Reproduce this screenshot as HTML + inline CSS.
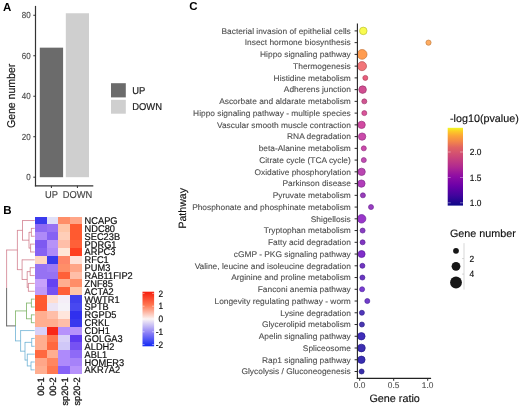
<!DOCTYPE html>
<html><head><meta charset="utf-8"><title>Figure</title>
<style>html,body{margin:0;padding:0;background:#fff;}svg{display:block}text{font-family:"Liberation Sans",Arial,sans-serif;text-rendering:geometricPrecision}</style>
</head><body>
<svg width="520" height="407" viewBox="0 0 520 407">
<rect width="520" height="407" fill="#ffffff"/>
<text transform="translate(2.90 10.50)" font-size="11.5" fill="#000" text-anchor="start" font-weight="bold">A</text>
<text transform="translate(3.20 214.20)" font-size="11.5" fill="#000" text-anchor="start" font-weight="bold">B</text>
<text transform="translate(189.30 10.40)" font-size="11.5" fill="#000" text-anchor="start" font-weight="bold">C</text>
<rect x="39.80" y="47.66" width="23.30" height="129.54" fill="#6b6b6b"/>
<rect x="65.80" y="13.26" width="23.20" height="163.94" fill="#cfcfcf"/>
<line x1="35.50" y1="5.90" x2="35.50" y2="186.40" stroke="#333" stroke-width="1.2"/>
<line x1="34.90" y1="185.80" x2="93.30" y2="185.80" stroke="#333" stroke-width="1.2"/>
<line x1="33.30" y1="177.20" x2="35.50" y2="177.20" stroke="#333" stroke-width="1"/>
<text transform="translate(30.70 180.40) scale(0.9 1)" font-size="8.9" fill="#4d4d4d" text-anchor="end" font-weight="normal" stroke="#4d4d4d" stroke-width="0.15">0</text>
<line x1="33.30" y1="136.72" x2="35.50" y2="136.72" stroke="#333" stroke-width="1"/>
<text transform="translate(30.70 139.92) scale(0.9 1)" font-size="8.9" fill="#4d4d4d" text-anchor="end" font-weight="normal" stroke="#4d4d4d" stroke-width="0.15">20</text>
<line x1="33.30" y1="96.24" x2="35.50" y2="96.24" stroke="#333" stroke-width="1"/>
<text transform="translate(30.70 99.44) scale(0.9 1)" font-size="8.9" fill="#4d4d4d" text-anchor="end" font-weight="normal" stroke="#4d4d4d" stroke-width="0.15">40</text>
<line x1="33.30" y1="55.76" x2="35.50" y2="55.76" stroke="#333" stroke-width="1"/>
<text transform="translate(30.70 58.96) scale(0.9 1)" font-size="8.9" fill="#4d4d4d" text-anchor="end" font-weight="normal" stroke="#4d4d4d" stroke-width="0.15">60</text>
<line x1="33.30" y1="15.28" x2="35.50" y2="15.28" stroke="#333" stroke-width="1"/>
<text transform="translate(30.70 18.48) scale(0.9 1)" font-size="8.9" fill="#4d4d4d" text-anchor="end" font-weight="normal" stroke="#4d4d4d" stroke-width="0.15">80</text>
<line x1="51.40" y1="185.80" x2="51.40" y2="188.00" stroke="#333" stroke-width="1"/>
<text transform="translate(51.40 197.90) scale(0.93 1)" font-size="10" fill="#444" text-anchor="middle" font-weight="normal" stroke="#444" stroke-width="0.15">UP</text>
<line x1="77.40" y1="185.80" x2="77.40" y2="188.00" stroke="#333" stroke-width="1"/>
<text transform="translate(77.40 197.90) scale(0.93 1)" font-size="10" fill="#444" text-anchor="middle" font-weight="normal" stroke="#444" stroke-width="0.15">DOWN</text>
<text transform="translate(15.30 95.90) rotate(-90) scale(0.93 1)" font-size="11.3" fill="#111" text-anchor="middle" font-weight="normal" stroke="#111" stroke-width="0.15">Gene number</text>
<rect x="111.00" y="83.20" width="14.80" height="14.20" fill="#6b6b6b"/>
<rect x="111.00" y="99.80" width="14.80" height="13.90" fill="#cfcfcf"/>
<text transform="translate(132.20 93.90) scale(0.94 1)" font-size="10" fill="#1a1a1a" text-anchor="start" font-weight="normal" stroke="#1a1a1a" stroke-width="0.2">UP</text>
<text transform="translate(132.20 110.40) scale(0.94 1)" font-size="10" fill="#1a1a1a" text-anchor="start" font-weight="normal" stroke="#1a1a1a" stroke-width="0.2">DOWN</text>
<g shape-rendering="crispEdges">
<rect x="35.00" y="216.60" width="12.02" height="8.16" fill="#3a3aee"/>
<rect x="46.72" y="216.60" width="12.02" height="8.16" fill="#e0e0f8"/>
<rect x="58.44" y="216.60" width="12.02" height="8.16" fill="#ff8e68"/>
<rect x="70.16" y="216.60" width="12.02" height="8.16" fill="#ffa688"/>
<rect x="35.00" y="224.46" width="12.02" height="8.16" fill="#8e6af3"/>
<rect x="46.72" y="224.46" width="12.02" height="8.16" fill="#9872f3"/>
<rect x="58.44" y="224.46" width="12.02" height="8.16" fill="#ffc6a8"/>
<rect x="70.16" y="224.46" width="12.02" height="8.16" fill="#ff5a30"/>
<rect x="35.00" y="232.32" width="12.02" height="8.16" fill="#ae8af8"/>
<rect x="46.72" y="232.32" width="12.02" height="8.16" fill="#8662f3"/>
<rect x="58.44" y="232.32" width="12.02" height="8.16" fill="#ffceb8"/>
<rect x="70.16" y="232.32" width="12.02" height="8.16" fill="#ff5a30"/>
<rect x="35.00" y="240.18" width="12.02" height="8.16" fill="#7e5af1"/>
<rect x="46.72" y="240.18" width="12.02" height="8.16" fill="#b692f8"/>
<rect x="58.44" y="240.18" width="12.02" height="8.16" fill="#ffbea8"/>
<rect x="70.16" y="240.18" width="12.02" height="8.16" fill="#ff6038"/>
<rect x="35.00" y="248.04" width="12.02" height="8.16" fill="#8662f3"/>
<rect x="46.72" y="248.04" width="12.02" height="8.16" fill="#ae8af8"/>
<rect x="58.44" y="248.04" width="12.02" height="8.16" fill="#ffe6d8"/>
<rect x="70.16" y="248.04" width="12.02" height="8.16" fill="#ff4020"/>
<rect x="35.00" y="255.90" width="12.02" height="8.16" fill="#ffd6c0"/>
<rect x="46.72" y="255.90" width="12.02" height="8.16" fill="#3838ee"/>
<rect x="58.44" y="255.90" width="12.02" height="8.16" fill="#ff8668"/>
<rect x="70.16" y="255.90" width="12.02" height="8.16" fill="#ffe2d8"/>
<rect x="35.00" y="263.76" width="12.02" height="8.16" fill="#9672f3"/>
<rect x="46.72" y="263.76" width="12.02" height="8.16" fill="#9e7af5"/>
<rect x="58.44" y="263.76" width="12.02" height="8.16" fill="#ff8e68"/>
<rect x="70.16" y="263.76" width="12.02" height="8.16" fill="#ffa688"/>
<rect x="35.00" y="271.62" width="12.02" height="8.16" fill="#9672f3"/>
<rect x="46.72" y="271.62" width="12.02" height="8.16" fill="#9672f3"/>
<rect x="58.44" y="271.62" width="12.02" height="8.16" fill="#ff6038"/>
<rect x="70.16" y="271.62" width="12.02" height="8.16" fill="#ffbea8"/>
<rect x="35.00" y="279.48" width="12.02" height="8.16" fill="#c6a2fb"/>
<rect x="46.72" y="279.48" width="12.02" height="8.16" fill="#6642f1"/>
<rect x="58.44" y="279.48" width="12.02" height="8.16" fill="#ffae90"/>
<rect x="70.16" y="279.48" width="12.02" height="8.16" fill="#ff8e68"/>
<rect x="35.00" y="287.34" width="12.02" height="8.16" fill="#be9af8"/>
<rect x="46.72" y="287.34" width="12.02" height="8.16" fill="#7652f3"/>
<rect x="58.44" y="287.34" width="12.02" height="8.16" fill="#ff6038"/>
<rect x="70.16" y="287.34" width="12.02" height="8.16" fill="#ffc6a8"/>
<rect x="35.00" y="295.20" width="12.02" height="8.16" fill="#ff5a30"/>
<rect x="46.72" y="295.20" width="12.02" height="8.16" fill="#ffded0"/>
<rect x="58.44" y="295.20" width="12.02" height="8.16" fill="#f4eef8"/>
<rect x="70.16" y="295.20" width="12.02" height="8.16" fill="#4040ee"/>
<rect x="35.00" y="303.06" width="12.02" height="8.16" fill="#ff5830"/>
<rect x="46.72" y="303.06" width="12.02" height="8.16" fill="#ece4f4"/>
<rect x="58.44" y="303.06" width="12.02" height="8.16" fill="#f4f2f8"/>
<rect x="70.16" y="303.06" width="12.02" height="8.16" fill="#4848f0"/>
<rect x="35.00" y="310.92" width="12.02" height="8.16" fill="#ffae90"/>
<rect x="46.72" y="310.92" width="12.02" height="8.16" fill="#ffbea8"/>
<rect x="58.44" y="310.92" width="12.02" height="8.16" fill="#ffe6dc"/>
<rect x="70.16" y="310.92" width="12.02" height="8.16" fill="#3030ee"/>
<rect x="35.00" y="318.78" width="12.02" height="8.16" fill="#ffae90"/>
<rect x="46.72" y="318.78" width="12.02" height="8.16" fill="#ffae90"/>
<rect x="58.44" y="318.78" width="12.02" height="8.16" fill="#ffbea8"/>
<rect x="70.16" y="318.78" width="12.02" height="8.16" fill="#3838ee"/>
<rect x="35.00" y="326.64" width="12.02" height="8.16" fill="#d8d0f8"/>
<rect x="46.72" y="326.64" width="12.02" height="8.16" fill="#f82818"/>
<rect x="58.44" y="326.64" width="12.02" height="8.16" fill="#b692fb"/>
<rect x="70.16" y="326.64" width="12.02" height="8.16" fill="#b692fb"/>
<rect x="35.00" y="334.50" width="12.02" height="8.16" fill="#ffae90"/>
<rect x="46.72" y="334.50" width="12.02" height="8.16" fill="#ff7850"/>
<rect x="58.44" y="334.50" width="12.02" height="8.16" fill="#d8d0f8"/>
<rect x="70.16" y="334.50" width="12.02" height="8.16" fill="#5e3af1"/>
<rect x="35.00" y="342.36" width="12.02" height="8.16" fill="#ffae90"/>
<rect x="46.72" y="342.36" width="12.02" height="8.16" fill="#ff6840"/>
<rect x="58.44" y="342.36" width="12.02" height="8.16" fill="#d0c8f8"/>
<rect x="70.16" y="342.36" width="12.02" height="8.16" fill="#7652f3"/>
<rect x="35.00" y="350.22" width="12.02" height="8.16" fill="#ff6840"/>
<rect x="46.72" y="350.22" width="12.02" height="8.16" fill="#ffae90"/>
<rect x="58.44" y="350.22" width="12.02" height="8.16" fill="#ae8afb"/>
<rect x="70.16" y="350.22" width="12.02" height="8.16" fill="#8e6af7"/>
<rect x="35.00" y="358.08" width="12.02" height="8.16" fill="#ffa688"/>
<rect x="46.72" y="358.08" width="12.02" height="8.16" fill="#ff8660"/>
<rect x="58.44" y="358.08" width="12.02" height="8.16" fill="#ae8afb"/>
<rect x="70.16" y="358.08" width="12.02" height="8.16" fill="#a682f9"/>
<rect x="35.00" y="365.94" width="12.02" height="8.16" fill="#ffae90"/>
<rect x="46.72" y="365.94" width="12.02" height="8.16" fill="#ff7850"/>
<rect x="58.44" y="365.94" width="12.02" height="8.16" fill="#8662f7"/>
<rect x="70.16" y="365.94" width="12.02" height="8.16" fill="#b692fb"/>
</g>
<text transform="translate(84.60 224.03) scale(0.944 1)" font-size="9.8" fill="#111" text-anchor="start" font-weight="normal" stroke="#111" stroke-width="0.2">NCAPG</text>
<text transform="translate(84.60 231.89) scale(0.944 1)" font-size="9.8" fill="#111" text-anchor="start" font-weight="normal" stroke="#111" stroke-width="0.2">NDC80</text>
<text transform="translate(84.60 239.75) scale(0.944 1)" font-size="9.8" fill="#111" text-anchor="start" font-weight="normal" stroke="#111" stroke-width="0.2">SEC23B</text>
<text transform="translate(84.60 247.61) scale(0.944 1)" font-size="9.8" fill="#111" text-anchor="start" font-weight="normal" stroke="#111" stroke-width="0.2">PDRG1</text>
<text transform="translate(84.60 255.47) scale(0.944 1)" font-size="9.8" fill="#111" text-anchor="start" font-weight="normal" stroke="#111" stroke-width="0.2">ARPC3</text>
<text transform="translate(84.60 263.33) scale(0.944 1)" font-size="9.8" fill="#111" text-anchor="start" font-weight="normal" stroke="#111" stroke-width="0.2">RFC1</text>
<text transform="translate(84.60 271.19) scale(0.944 1)" font-size="9.8" fill="#111" text-anchor="start" font-weight="normal" stroke="#111" stroke-width="0.2">PUM3</text>
<text transform="translate(84.60 279.05) scale(0.944 1)" font-size="9.8" fill="#111" text-anchor="start" font-weight="normal" stroke="#111" stroke-width="0.2">RAB11FIP2</text>
<text transform="translate(84.60 286.91) scale(0.944 1)" font-size="9.8" fill="#111" text-anchor="start" font-weight="normal" stroke="#111" stroke-width="0.2">ZNF85</text>
<text transform="translate(84.60 294.77) scale(0.944 1)" font-size="9.8" fill="#111" text-anchor="start" font-weight="normal" stroke="#111" stroke-width="0.2">ACTA2</text>
<text transform="translate(84.60 302.63) scale(0.944 1)" font-size="9.8" fill="#111" text-anchor="start" font-weight="normal" stroke="#111" stroke-width="0.2">WWTR1</text>
<text transform="translate(84.60 310.49) scale(0.944 1)" font-size="9.8" fill="#111" text-anchor="start" font-weight="normal" stroke="#111" stroke-width="0.2">SPTB</text>
<text transform="translate(84.60 318.35) scale(0.944 1)" font-size="9.8" fill="#111" text-anchor="start" font-weight="normal" stroke="#111" stroke-width="0.2">RGPD5</text>
<text transform="translate(84.60 326.21) scale(0.944 1)" font-size="9.8" fill="#111" text-anchor="start" font-weight="normal" stroke="#111" stroke-width="0.2">CRKL</text>
<text transform="translate(84.60 334.07) scale(0.944 1)" font-size="9.8" fill="#111" text-anchor="start" font-weight="normal" stroke="#111" stroke-width="0.2">CDH1</text>
<text transform="translate(84.60 341.93) scale(0.944 1)" font-size="9.8" fill="#111" text-anchor="start" font-weight="normal" stroke="#111" stroke-width="0.2">GOLGA3</text>
<text transform="translate(84.60 349.79) scale(0.944 1)" font-size="9.8" fill="#111" text-anchor="start" font-weight="normal" stroke="#111" stroke-width="0.2">ALDH2</text>
<text transform="translate(84.60 357.65) scale(0.944 1)" font-size="9.8" fill="#111" text-anchor="start" font-weight="normal" stroke="#111" stroke-width="0.2">ABL1</text>
<text transform="translate(84.60 365.51) scale(0.944 1)" font-size="9.8" fill="#111" text-anchor="start" font-weight="normal" stroke="#111" stroke-width="0.2">HOMER3</text>
<text transform="translate(84.60 373.37) scale(0.944 1)" font-size="9.8" fill="#111" text-anchor="start" font-weight="normal" stroke="#111" stroke-width="0.2">AKR7A2</text>
<text transform="translate(44.00 377.30) rotate(-90)" font-size="9.25" fill="#111" text-anchor="end" font-weight="normal" stroke="#111" stroke-width="0.25">00-1</text>
<text transform="translate(55.90 377.30) rotate(-90)" font-size="9.25" fill="#111" text-anchor="end" font-weight="normal" stroke="#111" stroke-width="0.25">00-2</text>
<text transform="translate(67.80 377.30) rotate(-90)" font-size="9.25" fill="#111" text-anchor="end" font-weight="normal" stroke="#111" stroke-width="0.25">sp20-1</text>
<text transform="translate(79.80 377.30) rotate(-90)" font-size="9.25" fill="#111" text-anchor="end" font-weight="normal" stroke="#111" stroke-width="0.25">sp20-2</text>
<defs><linearGradient id="hb" x1="0" y1="0" x2="0" y2="1"><stop offset="0" stop-color="#f71d0c"/><stop offset="0.25" stop-color="#ff7a55"/><stop offset="0.5" stop-color="#fbf4f4"/><stop offset="0.75" stop-color="#8f82f6"/><stop offset="1" stop-color="#1128f5"/></linearGradient>
<linearGradient id="pl" x1="0" y1="1" x2="0" y2="0"><stop offset="0" stop-color="#0d0887"/><stop offset="0.13" stop-color="#41049d"/><stop offset="0.25" stop-color="#6a00a8"/><stop offset="0.38" stop-color="#8f0da4"/><stop offset="0.5" stop-color="#b12a90"/><stop offset="0.63" stop-color="#cc4778"/><stop offset="0.75" stop-color="#e16462"/><stop offset="0.82" stop-color="#f2844b"/><stop offset="0.9" stop-color="#fca636"/><stop offset="0.96" stop-color="#fcce25"/><stop offset="1" stop-color="#f0f921"/></linearGradient></defs>
<rect x="142.50" y="291.70" width="11.60" height="54.60" fill="url(#hb)"/>
<line x1="142.50" y1="293.40" x2="144.50" y2="293.40" stroke="#fff" stroke-width="0.5"/>
<line x1="152.10" y1="293.40" x2="154.10" y2="293.40" stroke="#fff" stroke-width="0.5"/>
<text transform="translate(163.10 296.60) scale(0.9 1)" font-size="9.2" fill="#111" text-anchor="end" font-weight="normal" stroke="#111" stroke-width="0.2">2</text>
<line x1="142.50" y1="306.20" x2="144.50" y2="306.20" stroke="#fff" stroke-width="0.5"/>
<line x1="152.10" y1="306.20" x2="154.10" y2="306.20" stroke="#fff" stroke-width="0.5"/>
<text transform="translate(163.10 309.40) scale(0.9 1)" font-size="9.2" fill="#111" text-anchor="end" font-weight="normal" stroke="#111" stroke-width="0.2">1</text>
<line x1="142.50" y1="319.00" x2="144.50" y2="319.00" stroke="#fff" stroke-width="0.5"/>
<line x1="152.10" y1="319.00" x2="154.10" y2="319.00" stroke="#fff" stroke-width="0.5"/>
<text transform="translate(163.10 322.20) scale(0.9 1)" font-size="9.2" fill="#111" text-anchor="end" font-weight="normal" stroke="#111" stroke-width="0.2">0</text>
<line x1="142.50" y1="331.80" x2="144.50" y2="331.80" stroke="#fff" stroke-width="0.5"/>
<line x1="152.10" y1="331.80" x2="154.10" y2="331.80" stroke="#fff" stroke-width="0.5"/>
<text transform="translate(163.10 335.00) scale(0.9 1)" font-size="9.2" fill="#111" text-anchor="end" font-weight="normal" stroke="#111" stroke-width="0.2">-1</text>
<line x1="142.50" y1="344.60" x2="144.50" y2="344.60" stroke="#fff" stroke-width="0.5"/>
<line x1="152.10" y1="344.60" x2="154.10" y2="344.60" stroke="#fff" stroke-width="0.5"/>
<text transform="translate(163.10 347.80) scale(0.9 1)" font-size="9.2" fill="#111" text-anchor="end" font-weight="normal" stroke="#111" stroke-width="0.2">-2</text>
<line x1="34.70" y1="228.39" x2="31.40" y2="228.39" stroke="#cc6f7f" stroke-width="0.7"/>
<line x1="34.70" y1="236.25" x2="31.40" y2="236.25" stroke="#cc6f7f" stroke-width="0.7"/>
<line x1="31.40" y1="228.04" x2="31.40" y2="236.60" stroke="#cc6f7f" stroke-width="0.7"/>
<line x1="34.70" y1="244.11" x2="30.60" y2="244.11" stroke="#cc6f7f" stroke-width="0.7"/>
<line x1="34.70" y1="251.97" x2="30.60" y2="251.97" stroke="#cc6f7f" stroke-width="0.7"/>
<line x1="30.60" y1="243.76" x2="30.60" y2="252.32" stroke="#cc6f7f" stroke-width="0.7"/>
<line x1="31.40" y1="232.32" x2="29.00" y2="232.32" stroke="#cc6f7f" stroke-width="0.7"/>
<line x1="30.60" y1="248.04" x2="29.00" y2="248.04" stroke="#cc6f7f" stroke-width="0.7"/>
<line x1="29.00" y1="231.97" x2="29.00" y2="248.39" stroke="#cc6f7f" stroke-width="0.7"/>
<line x1="34.70" y1="220.53" x2="22.50" y2="220.53" stroke="#cc6f7f" stroke-width="0.7"/>
<line x1="29.00" y1="240.18" x2="22.50" y2="240.18" stroke="#cc6f7f" stroke-width="0.7"/>
<line x1="22.50" y1="220.18" x2="22.50" y2="240.53" stroke="#cc6f7f" stroke-width="0.7"/>
<line x1="34.70" y1="267.69" x2="30.20" y2="267.69" stroke="#cc6f7f" stroke-width="0.7"/>
<line x1="34.70" y1="275.55" x2="30.20" y2="275.55" stroke="#cc6f7f" stroke-width="0.7"/>
<line x1="30.20" y1="267.34" x2="30.20" y2="275.90" stroke="#cc6f7f" stroke-width="0.7"/>
<line x1="34.70" y1="283.41" x2="28.40" y2="283.41" stroke="#cc6f7f" stroke-width="0.7"/>
<line x1="34.70" y1="291.27" x2="28.40" y2="291.27" stroke="#cc6f7f" stroke-width="0.7"/>
<line x1="28.40" y1="283.06" x2="28.40" y2="291.62" stroke="#cc6f7f" stroke-width="0.7"/>
<line x1="30.20" y1="271.62" x2="27.20" y2="271.62" stroke="#cc6f7f" stroke-width="0.7"/>
<line x1="28.40" y1="287.34" x2="27.20" y2="287.34" stroke="#cc6f7f" stroke-width="0.7"/>
<line x1="27.20" y1="271.27" x2="27.20" y2="287.69" stroke="#cc6f7f" stroke-width="0.7"/>
<line x1="34.70" y1="259.83" x2="22.10" y2="259.83" stroke="#cc6f7f" stroke-width="0.7"/>
<line x1="27.20" y1="279.48" x2="22.10" y2="279.48" stroke="#cc6f7f" stroke-width="0.7"/>
<line x1="22.10" y1="259.48" x2="22.10" y2="279.83" stroke="#cc6f7f" stroke-width="0.7"/>
<line x1="22.50" y1="230.36" x2="17.40" y2="230.36" stroke="#cc6f7f" stroke-width="0.7"/>
<line x1="22.10" y1="269.65" x2="17.40" y2="269.65" stroke="#cc6f7f" stroke-width="0.7"/>
<line x1="17.40" y1="230.01" x2="17.40" y2="270.00" stroke="#cc6f7f" stroke-width="0.7"/>
<line x1="34.70" y1="299.13" x2="31.40" y2="299.13" stroke="#6aa84f" stroke-width="0.7"/>
<line x1="34.70" y1="306.99" x2="31.40" y2="306.99" stroke="#6aa84f" stroke-width="0.7"/>
<line x1="31.40" y1="298.78" x2="31.40" y2="307.34" stroke="#6aa84f" stroke-width="0.7"/>
<line x1="34.70" y1="314.85" x2="31.40" y2="314.85" stroke="#6aa84f" stroke-width="0.7"/>
<line x1="34.70" y1="322.71" x2="31.40" y2="322.71" stroke="#6aa84f" stroke-width="0.7"/>
<line x1="31.40" y1="314.50" x2="31.40" y2="323.06" stroke="#6aa84f" stroke-width="0.7"/>
<line x1="31.40" y1="303.06" x2="26.50" y2="303.06" stroke="#6aa84f" stroke-width="0.7"/>
<line x1="31.40" y1="318.78" x2="26.50" y2="318.78" stroke="#6aa84f" stroke-width="0.7"/>
<line x1="26.50" y1="302.71" x2="26.50" y2="319.13" stroke="#6aa84f" stroke-width="0.7"/>
<line x1="34.70" y1="338.43" x2="31.70" y2="338.43" stroke="#5aa7cf" stroke-width="0.7"/>
<line x1="34.70" y1="346.29" x2="31.70" y2="346.29" stroke="#5aa7cf" stroke-width="0.7"/>
<line x1="31.70" y1="338.08" x2="31.70" y2="346.64" stroke="#5aa7cf" stroke-width="0.7"/>
<line x1="34.70" y1="362.01" x2="31.00" y2="362.01" stroke="#5aa7cf" stroke-width="0.7"/>
<line x1="34.70" y1="369.87" x2="31.00" y2="369.87" stroke="#5aa7cf" stroke-width="0.7"/>
<line x1="31.00" y1="361.66" x2="31.00" y2="370.22" stroke="#5aa7cf" stroke-width="0.7"/>
<line x1="34.70" y1="354.15" x2="27.30" y2="354.15" stroke="#5aa7cf" stroke-width="0.7"/>
<line x1="31.00" y1="365.94" x2="27.30" y2="365.94" stroke="#5aa7cf" stroke-width="0.7"/>
<line x1="27.30" y1="353.80" x2="27.30" y2="366.29" stroke="#5aa7cf" stroke-width="0.7"/>
<line x1="31.70" y1="342.36" x2="25.00" y2="342.36" stroke="#5aa7cf" stroke-width="0.7"/>
<line x1="27.30" y1="360.04" x2="25.00" y2="360.04" stroke="#5aa7cf" stroke-width="0.7"/>
<line x1="25.00" y1="342.01" x2="25.00" y2="360.39" stroke="#5aa7cf" stroke-width="0.7"/>
<line x1="34.70" y1="330.57" x2="20.60" y2="330.57" stroke="#5aa7cf" stroke-width="0.7"/>
<line x1="25.00" y1="351.20" x2="20.60" y2="351.20" stroke="#5aa7cf" stroke-width="0.7"/>
<line x1="20.60" y1="330.22" x2="20.60" y2="351.55" stroke="#5aa7cf" stroke-width="0.7"/>
<line x1="26.50" y1="310.92" x2="15.50" y2="310.92" stroke="#6aa84f" stroke-width="0.7"/>
<line x1="20.60" y1="340.89" x2="15.50" y2="340.89" stroke="#5aa7cf" stroke-width="0.7"/>
<line x1="15.50" y1="310.57" x2="15.50" y2="325.90" stroke="#6aa84f" stroke-width="0.7"/>
<line x1="15.50" y1="325.90" x2="15.50" y2="341.24" stroke="#5aa7cf" stroke-width="0.7"/>
<line x1="17.40" y1="250.00" x2="6.60" y2="250.00" stroke="#cc6f7f" stroke-width="0.7"/>
<line x1="15.50" y1="325.90" x2="6.60" y2="325.90" stroke="#5a5a5a" stroke-width="0.9"/>
<line x1="6.60" y1="249.66" x2="6.60" y2="287.95" stroke="#cc6f7f" stroke-width="0.7"/>
<line x1="6.60" y1="287.95" x2="6.60" y2="326.35" stroke="#5a5a5a" stroke-width="0.9"/>
<line x1="354.60" y1="30.90" x2="357.40" y2="30.90" stroke="#2a2a2a" stroke-width="1"/>
<text transform="translate(350.80 33.75) scale(1.03 1)" font-size="8.15" fill="#4d4d4d" text-anchor="end" font-weight="normal" stroke="#4d4d4d" stroke-width="0.1">Bacterial invasion of epithelial cells</text>
<line x1="354.60" y1="42.64" x2="357.40" y2="42.64" stroke="#2a2a2a" stroke-width="1"/>
<text transform="translate(350.80 45.49) scale(1.03 1)" font-size="8.15" fill="#4d4d4d" text-anchor="end" font-weight="normal" stroke="#4d4d4d" stroke-width="0.1">Insect hormone biosynthesis</text>
<line x1="354.60" y1="54.39" x2="357.40" y2="54.39" stroke="#2a2a2a" stroke-width="1"/>
<text transform="translate(350.80 57.24) scale(1.03 1)" font-size="8.15" fill="#4d4d4d" text-anchor="end" font-weight="normal" stroke="#4d4d4d" stroke-width="0.1">Hippo signaling pathway</text>
<line x1="354.60" y1="66.13" x2="357.40" y2="66.13" stroke="#2a2a2a" stroke-width="1"/>
<text transform="translate(350.80 68.98) scale(1.03 1)" font-size="8.15" fill="#4d4d4d" text-anchor="end" font-weight="normal" stroke="#4d4d4d" stroke-width="0.1">Thermogenesis</text>
<line x1="354.60" y1="77.88" x2="357.40" y2="77.88" stroke="#2a2a2a" stroke-width="1"/>
<text transform="translate(350.80 80.73) scale(1.03 1)" font-size="8.15" fill="#4d4d4d" text-anchor="end" font-weight="normal" stroke="#4d4d4d" stroke-width="0.1">Histidine metabolism</text>
<line x1="354.60" y1="89.62" x2="357.40" y2="89.62" stroke="#2a2a2a" stroke-width="1"/>
<text transform="translate(350.80 92.47) scale(1.03 1)" font-size="8.15" fill="#4d4d4d" text-anchor="end" font-weight="normal" stroke="#4d4d4d" stroke-width="0.1">Adherens junction</text>
<line x1="354.60" y1="101.37" x2="357.40" y2="101.37" stroke="#2a2a2a" stroke-width="1"/>
<text transform="translate(350.80 104.22) scale(1.03 1)" font-size="8.15" fill="#4d4d4d" text-anchor="end" font-weight="normal" stroke="#4d4d4d" stroke-width="0.1">Ascorbate and aldarate metabolism</text>
<line x1="354.60" y1="113.11" x2="357.40" y2="113.11" stroke="#2a2a2a" stroke-width="1"/>
<text transform="translate(350.80 115.96) scale(1.03 1)" font-size="8.15" fill="#4d4d4d" text-anchor="end" font-weight="normal" stroke="#4d4d4d" stroke-width="0.1">Hippo signaling pathway - multiple species</text>
<line x1="354.60" y1="124.86" x2="357.40" y2="124.86" stroke="#2a2a2a" stroke-width="1"/>
<text transform="translate(350.80 127.71) scale(1.03 1)" font-size="8.15" fill="#4d4d4d" text-anchor="end" font-weight="normal" stroke="#4d4d4d" stroke-width="0.1">Vascular smooth muscle contraction</text>
<line x1="354.60" y1="136.60" x2="357.40" y2="136.60" stroke="#2a2a2a" stroke-width="1"/>
<text transform="translate(350.80 139.45) scale(1.03 1)" font-size="8.15" fill="#4d4d4d" text-anchor="end" font-weight="normal" stroke="#4d4d4d" stroke-width="0.1">RNA degradation</text>
<line x1="354.60" y1="148.35" x2="357.40" y2="148.35" stroke="#2a2a2a" stroke-width="1"/>
<text transform="translate(350.80 151.20) scale(1.03 1)" font-size="8.15" fill="#4d4d4d" text-anchor="end" font-weight="normal" stroke="#4d4d4d" stroke-width="0.1">beta-Alanine metabolism</text>
<line x1="354.60" y1="160.09" x2="357.40" y2="160.09" stroke="#2a2a2a" stroke-width="1"/>
<text transform="translate(350.80 162.94) scale(1.03 1)" font-size="8.15" fill="#4d4d4d" text-anchor="end" font-weight="normal" stroke="#4d4d4d" stroke-width="0.1">Citrate cycle (TCA cycle)</text>
<line x1="354.60" y1="171.84" x2="357.40" y2="171.84" stroke="#2a2a2a" stroke-width="1"/>
<text transform="translate(350.80 174.69) scale(1.03 1)" font-size="8.15" fill="#4d4d4d" text-anchor="end" font-weight="normal" stroke="#4d4d4d" stroke-width="0.1">Oxidative phosphorylation</text>
<line x1="354.60" y1="183.59" x2="357.40" y2="183.59" stroke="#2a2a2a" stroke-width="1"/>
<text transform="translate(350.80 186.44) scale(1.03 1)" font-size="8.15" fill="#4d4d4d" text-anchor="end" font-weight="normal" stroke="#4d4d4d" stroke-width="0.1">Parkinson disease</text>
<line x1="354.60" y1="195.33" x2="357.40" y2="195.33" stroke="#2a2a2a" stroke-width="1"/>
<text transform="translate(350.80 198.18) scale(1.03 1)" font-size="8.15" fill="#4d4d4d" text-anchor="end" font-weight="normal" stroke="#4d4d4d" stroke-width="0.1">Pyruvate metabolism</text>
<line x1="354.60" y1="207.07" x2="357.40" y2="207.07" stroke="#2a2a2a" stroke-width="1"/>
<text transform="translate(350.80 209.92) scale(1.03 1)" font-size="8.15" fill="#4d4d4d" text-anchor="end" font-weight="normal" stroke="#4d4d4d" stroke-width="0.1">Phosphonate and phosphinate metabolism</text>
<line x1="354.60" y1="218.82" x2="357.40" y2="218.82" stroke="#2a2a2a" stroke-width="1"/>
<text transform="translate(350.80 221.67) scale(1.03 1)" font-size="8.15" fill="#4d4d4d" text-anchor="end" font-weight="normal" stroke="#4d4d4d" stroke-width="0.1">Shigellosis</text>
<line x1="354.60" y1="230.56" x2="357.40" y2="230.56" stroke="#2a2a2a" stroke-width="1"/>
<text transform="translate(350.80 233.41) scale(1.03 1)" font-size="8.15" fill="#4d4d4d" text-anchor="end" font-weight="normal" stroke="#4d4d4d" stroke-width="0.1">Tryptophan metabolism</text>
<line x1="354.60" y1="242.31" x2="357.40" y2="242.31" stroke="#2a2a2a" stroke-width="1"/>
<text transform="translate(350.80 245.16) scale(1.03 1)" font-size="8.15" fill="#4d4d4d" text-anchor="end" font-weight="normal" stroke="#4d4d4d" stroke-width="0.1">Fatty acid degradation</text>
<line x1="354.60" y1="254.05" x2="357.40" y2="254.05" stroke="#2a2a2a" stroke-width="1"/>
<text transform="translate(350.80 256.90) scale(1.03 1)" font-size="8.15" fill="#4d4d4d" text-anchor="end" font-weight="normal" stroke="#4d4d4d" stroke-width="0.1">cGMP - PKG signaling pathway</text>
<line x1="354.60" y1="265.80" x2="357.40" y2="265.80" stroke="#2a2a2a" stroke-width="1"/>
<text transform="translate(350.80 268.65) scale(1.03 1)" font-size="8.15" fill="#4d4d4d" text-anchor="end" font-weight="normal" stroke="#4d4d4d" stroke-width="0.1">Valine, leucine and isoleucine degradation</text>
<line x1="354.60" y1="277.54" x2="357.40" y2="277.54" stroke="#2a2a2a" stroke-width="1"/>
<text transform="translate(350.80 280.39) scale(1.03 1)" font-size="8.15" fill="#4d4d4d" text-anchor="end" font-weight="normal" stroke="#4d4d4d" stroke-width="0.1">Arginine and proline metabolism</text>
<line x1="354.60" y1="289.29" x2="357.40" y2="289.29" stroke="#2a2a2a" stroke-width="1"/>
<text transform="translate(350.80 292.14) scale(1.03 1)" font-size="8.15" fill="#4d4d4d" text-anchor="end" font-weight="normal" stroke="#4d4d4d" stroke-width="0.1">Fanconi anemia pathway</text>
<line x1="354.60" y1="301.03" x2="357.40" y2="301.03" stroke="#2a2a2a" stroke-width="1"/>
<text transform="translate(350.80 303.88) scale(1.03 1)" font-size="8.15" fill="#4d4d4d" text-anchor="end" font-weight="normal" stroke="#4d4d4d" stroke-width="0.1">Longevity regulating pathway - worm</text>
<line x1="354.60" y1="312.78" x2="357.40" y2="312.78" stroke="#2a2a2a" stroke-width="1"/>
<text transform="translate(350.80 315.63) scale(1.03 1)" font-size="8.15" fill="#4d4d4d" text-anchor="end" font-weight="normal" stroke="#4d4d4d" stroke-width="0.1">Lysine degradation</text>
<line x1="354.60" y1="324.52" x2="357.40" y2="324.52" stroke="#2a2a2a" stroke-width="1"/>
<text transform="translate(350.80 327.38) scale(1.03 1)" font-size="8.15" fill="#4d4d4d" text-anchor="end" font-weight="normal" stroke="#4d4d4d" stroke-width="0.1">Glycerolipid metabolism</text>
<line x1="354.60" y1="336.27" x2="357.40" y2="336.27" stroke="#2a2a2a" stroke-width="1"/>
<text transform="translate(350.80 339.12) scale(1.03 1)" font-size="8.15" fill="#4d4d4d" text-anchor="end" font-weight="normal" stroke="#4d4d4d" stroke-width="0.1">Apelin signaling pathway</text>
<line x1="354.60" y1="348.01" x2="357.40" y2="348.01" stroke="#2a2a2a" stroke-width="1"/>
<text transform="translate(350.80 350.86) scale(1.03 1)" font-size="8.15" fill="#4d4d4d" text-anchor="end" font-weight="normal" stroke="#4d4d4d" stroke-width="0.1">Spliceosome</text>
<line x1="354.60" y1="359.76" x2="357.40" y2="359.76" stroke="#2a2a2a" stroke-width="1"/>
<text transform="translate(350.80 362.61) scale(1.03 1)" font-size="8.15" fill="#4d4d4d" text-anchor="end" font-weight="normal" stroke="#4d4d4d" stroke-width="0.1">Rap1 signaling pathway</text>
<line x1="354.60" y1="371.50" x2="357.40" y2="371.50" stroke="#2a2a2a" stroke-width="1"/>
<text transform="translate(350.80 374.35) scale(1.03 1)" font-size="8.15" fill="#4d4d4d" text-anchor="end" font-weight="normal" stroke="#4d4d4d" stroke-width="0.1">Glycolysis / Gluconeogenesis</text>
<clipPath id="pc"><rect x="357.2" y="23.5" width="79.70000000000005" height="354.9"/></clipPath><g clip-path="url(#pc)">
<circle cx="363.3" cy="30.90" r="3.79" fill="#f9fb47" fill-opacity="0.95" stroke="#b9c036" stroke-width="0.8" stroke-opacity="0.85"/>
<circle cx="428.5" cy="42.64" r="2.60" fill="#ffa858" fill-opacity="0.95" stroke="#c08044" stroke-width="0.8" stroke-opacity="0.85"/>
<circle cx="362.1" cy="54.39" r="4.90" fill="#ff9747" fill-opacity="0.95" stroke="#c67336" stroke-width="0.8" stroke-opacity="0.85"/>
<circle cx="362.0" cy="66.13" r="4.53" fill="#f16e72" fill-opacity="0.95" stroke="#b35358" stroke-width="0.8" stroke-opacity="0.85"/>
<circle cx="365.3" cy="77.88" r="2.50" fill="#e85574" fill-opacity="0.95" stroke="#ac405a" stroke-width="0.8" stroke-opacity="0.85"/>
<circle cx="362.6" cy="89.62" r="3.79" fill="#cf448b" fill-opacity="0.95" stroke="#99336c" stroke-width="0.8" stroke-opacity="0.85"/>
<circle cx="364.3" cy="101.37" r="2.50" fill="#cf4c8b" fill-opacity="0.95" stroke="#99396c" stroke-width="0.8" stroke-opacity="0.85"/>
<circle cx="364.3" cy="113.11" r="2.50" fill="#d84c94" fill-opacity="0.95" stroke="#a03973" stroke-width="0.8" stroke-opacity="0.85"/>
<circle cx="361.6" cy="124.86" r="3.69" fill="#cf409c" fill-opacity="0.95" stroke="#99307a" stroke-width="0.8" stroke-opacity="0.85"/>
<circle cx="362.1" cy="136.60" r="3.69" fill="#c740a5" fill-opacity="0.95" stroke="#933081" stroke-width="0.8" stroke-opacity="0.85"/>
<circle cx="363.8" cy="148.35" r="2.50" fill="#c740a5" fill-opacity="0.95" stroke="#933081" stroke-width="0.8" stroke-opacity="0.85"/>
<circle cx="363.8" cy="160.09" r="2.50" fill="#be44ad" fill-opacity="0.95" stroke="#8c3388" stroke-width="0.8" stroke-opacity="0.85"/>
<circle cx="361.6" cy="171.84" r="3.69" fill="#b63cad" fill-opacity="0.95" stroke="#862c88" stroke-width="0.8" stroke-opacity="0.85"/>
<circle cx="361.4" cy="183.59" r="3.69" fill="#ad33b6" fill-opacity="0.95" stroke="#80268e" stroke-width="0.8" stroke-opacity="0.85"/>
<circle cx="362.9" cy="195.33" r="2.50" fill="#9433b6" fill-opacity="0.95" stroke="#6c268e" stroke-width="0.8" stroke-opacity="0.85"/>
<circle cx="371.0" cy="207.07" r="2.50" fill="#9433be" fill-opacity="0.95" stroke="#6c2695" stroke-width="0.8" stroke-opacity="0.85"/>
<circle cx="361.6" cy="218.82" r="4.25" fill="#942bc7" fill-opacity="0.95" stroke="#6c209c" stroke-width="0.8" stroke-opacity="0.85"/>
<circle cx="362.6" cy="230.56" r="2.50" fill="#8333be" fill-opacity="0.95" stroke="#602695" stroke-width="0.8" stroke-opacity="0.85"/>
<circle cx="362.6" cy="242.31" r="2.50" fill="#7a2bbe" fill-opacity="0.95" stroke="#592095" stroke-width="0.8" stroke-opacity="0.85"/>
<circle cx="361.6" cy="254.05" r="3.51" fill="#7a23c7" fill-opacity="0.95" stroke="#59199c" stroke-width="0.8" stroke-opacity="0.85"/>
<circle cx="362.4" cy="265.80" r="2.50" fill="#692bbe" fill-opacity="0.95" stroke="#4c2095" stroke-width="0.8" stroke-opacity="0.85"/>
<circle cx="362.4" cy="277.54" r="2.50" fill="#612bbe" fill-opacity="0.95" stroke="#462095" stroke-width="0.8" stroke-opacity="0.85"/>
<circle cx="362.1" cy="289.29" r="2.50" fill="#7233cf" fill-opacity="0.95" stroke="#5326a3" stroke-width="0.8" stroke-opacity="0.85"/>
<circle cx="367.3" cy="301.03" r="2.50" fill="#6933c7" fill-opacity="0.95" stroke="#4c269c" stroke-width="0.8" stroke-opacity="0.85"/>
<circle cx="361.9" cy="312.78" r="2.50" fill="#472bb6" fill-opacity="0.95" stroke="#33208e" stroke-width="0.8" stroke-opacity="0.85"/>
<circle cx="361.9" cy="324.52" r="2.50" fill="#3f2bad" fill-opacity="0.95" stroke="#2c2088" stroke-width="0.8" stroke-opacity="0.85"/>
<circle cx="361.4" cy="336.27" r="3.69" fill="#3623b6" fill-opacity="0.95" stroke="#26198e" stroke-width="0.8" stroke-opacity="0.85"/>
<circle cx="361.4" cy="348.01" r="3.88" fill="#3223ad" fill-opacity="0.95" stroke="#231988" stroke-width="0.8" stroke-opacity="0.85"/>
<circle cx="361.4" cy="359.76" r="3.69" fill="#2e23ad" fill-opacity="0.95" stroke="#201988" stroke-width="0.8" stroke-opacity="0.85"/>
<circle cx="361.6" cy="371.50" r="2.50" fill="#2e23a5" fill-opacity="0.95" stroke="#201981" stroke-width="0.8" stroke-opacity="0.85"/>
</g>
<line x1="357.40" y1="23.50" x2="357.40" y2="378.95" stroke="#222" stroke-width="1.1"/>
<line x1="356.85" y1="378.40" x2="431.10" y2="378.40" stroke="#222" stroke-width="1.1"/>
<line x1="359.70" y1="378.40" x2="359.70" y2="380.80" stroke="#2a2a2a" stroke-width="1"/>
<text transform="translate(359.70 388.30)" font-size="8.4" fill="#4d4d4d" text-anchor="middle" font-weight="normal" stroke="#4d4d4d" stroke-width="0.1">0.0</text>
<line x1="393.70" y1="378.40" x2="393.70" y2="380.80" stroke="#2a2a2a" stroke-width="1"/>
<text transform="translate(393.70 388.30)" font-size="8.4" fill="#4d4d4d" text-anchor="middle" font-weight="normal" stroke="#4d4d4d" stroke-width="0.1">0.5</text>
<line x1="427.70" y1="378.40" x2="427.70" y2="380.80" stroke="#2a2a2a" stroke-width="1"/>
<text transform="translate(427.70 388.30)" font-size="8.4" fill="#4d4d4d" text-anchor="middle" font-weight="normal" stroke="#4d4d4d" stroke-width="0.1">1.0</text>
<text transform="translate(394.60 401.60)" font-size="10.8" fill="#111" text-anchor="middle" font-weight="normal" stroke="#111" stroke-width="0.15">Gene ratio</text>
<text transform="translate(185.90 208.30) rotate(-90)" font-size="10.6" fill="#111" text-anchor="middle" font-weight="normal" stroke="#111" stroke-width="0.15">Pathway</text>
<text transform="translate(450.00 122.30)" font-size="10.75" fill="#111" text-anchor="start" font-weight="normal" stroke="#111" stroke-width="0.15">-log10(pvalue)</text>
<rect x="447.70" y="127.80" width="15.30" height="77.80" fill="url(#pl)"/>
<line x1="447.70" y1="152.00" x2="450.70" y2="152.00" stroke="#fff" stroke-width="0.5" opacity="0.8"/>
<line x1="460.00" y1="152.00" x2="463.00" y2="152.00" stroke="#fff" stroke-width="0.5" opacity="0.8"/>
<text transform="translate(469.80 155.10) scale(0.93 1)" font-size="9" fill="#111" text-anchor="start" font-weight="normal" stroke="#111" stroke-width="0.15">2.0</text>
<line x1="447.70" y1="177.40" x2="450.70" y2="177.40" stroke="#fff" stroke-width="0.5" opacity="0.8"/>
<line x1="460.00" y1="177.40" x2="463.00" y2="177.40" stroke="#fff" stroke-width="0.5" opacity="0.8"/>
<text transform="translate(469.80 180.50) scale(0.93 1)" font-size="9" fill="#111" text-anchor="start" font-weight="normal" stroke="#111" stroke-width="0.15">1.5</text>
<line x1="447.70" y1="202.80" x2="450.70" y2="202.80" stroke="#fff" stroke-width="0.5" opacity="0.8"/>
<line x1="460.00" y1="202.80" x2="463.00" y2="202.80" stroke="#fff" stroke-width="0.5" opacity="0.8"/>
<text transform="translate(469.80 205.90) scale(0.93 1)" font-size="9" fill="#111" text-anchor="start" font-weight="normal" stroke="#111" stroke-width="0.15">1.0</text>
<text transform="translate(450.00 236.80)" font-size="10.75" fill="#111" text-anchor="start" font-weight="normal" stroke="#111" stroke-width="0.15">Gene number</text>
<circle cx="456.0" cy="250.8" r="2.9" fill="#161616"/>
<circle cx="456.0" cy="266.3" r="4.4" fill="#161616"/>
<circle cx="456.0" cy="282.5" r="5.9" fill="#161616"/>
<line x1="464.00" y1="243.10" x2="464.00" y2="289.60" stroke="#bdbdbd" stroke-width="0.6"/>
<line x1="462.00" y1="258.60" x2="464.00" y2="258.60" stroke="#bdbdbd" stroke-width="0.6"/>
<text transform="translate(469.60 261.70) scale(0.93 1)" font-size="9" fill="#111" text-anchor="start" font-weight="normal" stroke="#111" stroke-width="0.15">2</text>
<line x1="462.00" y1="274.10" x2="464.00" y2="274.10" stroke="#bdbdbd" stroke-width="0.6"/>
<text transform="translate(469.60 277.20) scale(0.93 1)" font-size="9" fill="#111" text-anchor="start" font-weight="normal" stroke="#111" stroke-width="0.15">4</text>
</svg>
</body></html>
